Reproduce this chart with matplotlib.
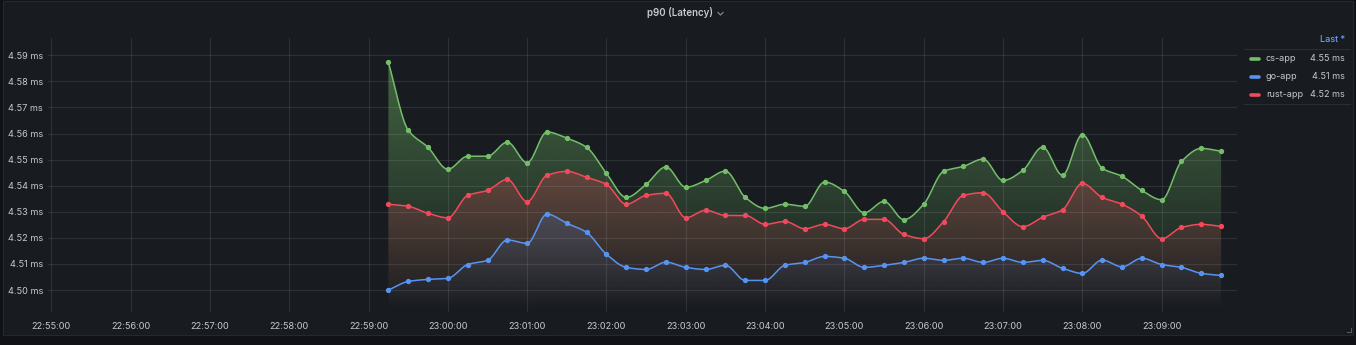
import numpy as np
import pandas as pd
import matplotlib
matplotlib.use('Agg')
import matplotlib.pyplot as plt
import matplotlib.dates as mdates
from matplotlib.lines import Line2D
from matplotlib.patches import Rectangle
from matplotlib.ticker import FuncFormatter

plt.rcParams['font.family'] = ['Inter', 'DejaVu Sans']

# samples every 15 s
times = pd.date_range('2024-05-01 22:59:15', periods=43, freq='15s')

cs_app = [4.5873, 4.5613, 4.5547, 4.5463, 4.5513, 4.5513, 4.5567, 4.5488, 4.5606, 4.5582,
          4.5547, 4.5447, 4.5355, 4.5405, 4.5472, 4.5394, 4.5420, 4.5456, 4.5355, 4.5313,
          4.5329, 4.5321, 4.5414, 4.5378, 4.5296, 4.5340, 4.5270, 4.5329, 4.5455, 4.5474,
          4.5502, 4.5420, 4.5459, 4.5548, 4.5440, 4.5596, 4.5467, 4.5436, 4.5382, 4.5346,
          4.5493, 4.5543, 4.5532]
go_app = [4.5000, 4.5033, 4.5041, 4.5045, 4.5098, 4.5114, 4.5192, 4.5179, 4.5291, 4.5256,
          4.5221, 4.5137, 4.5087, 4.5079, 4.5107, 4.5087, 4.5079, 4.5095, 4.5037, 4.5037,
          4.5095, 4.5106, 4.5129, 4.5122, 4.5087, 4.5095, 4.5106, 4.5122, 4.5114, 4.5122,
          4.5106, 4.5122, 4.5106, 4.5114, 4.5083, 4.5064, 4.5115, 4.5089, 4.5122, 4.5098,
          4.5087, 4.5064, 4.5056]
rust_app = [4.5329, 4.5321, 4.5294, 4.5277, 4.5363, 4.5382, 4.5424, 4.5339, 4.5440, 4.5455,
            4.5432, 4.5405, 4.5329, 4.5363, 4.5371, 4.5277, 4.5306, 4.5286, 4.5286, 4.5252,
            4.5263, 4.5235, 4.5252, 4.5235, 4.5271, 4.5271, 4.5213, 4.5197, 4.5262, 4.5363,
            4.5373, 4.5300, 4.5243, 4.5279, 4.5308, 4.5409, 4.5355, 4.5329, 4.5283, 4.5197,
            4.5240, 4.5252, 4.5244]

names = ['cs-app', 'go-app', 'rust-app']
colors = ['#73bf69', '#5794f2', '#f2495c']
all_series = [cs_app, go_app, rust_app]

W, H = 1356, 345
BG = '#181b1f'
TXT = '#c7c9d1'


def smooth(x, y, n=16):
    # monotone cubic (Fritsch-Carlson), like grafana's smooth line style
    x = np.asarray(x, float)
    y = np.asarray(y, float)
    h = np.diff(x)
    d = np.diff(y) / h
    m = np.zeros_like(y)
    m[0], m[-1] = d[0], d[-1]
    for i in range(1, len(y) - 1):
        if d[i - 1] * d[i] <= 0:
            m[i] = 0
        else:
            w1 = 2 * h[i] + h[i - 1]
            w2 = h[i] + 2 * h[i - 1]
            m[i] = (w1 + w2) / (w1 / d[i - 1] + w2 / d[i])
    xs, ys = [], []
    t = np.linspace(0, 1, n, endpoint=False)
    for i in range(len(h)):
        h00 = 2 * t**3 - 3 * t**2 + 1
        h10 = t**3 - 2 * t**2 + t
        h01 = -2 * t**3 + 3 * t**2
        h11 = t**3 - t**2
        xs.append(x[i] + t * h[i])
        ys.append(h00 * y[i] + h10 * h[i] * m[i] + h01 * y[i + 1] + h11 * h[i] * m[i + 1])
    xs.append([x[-1]])
    ys.append([y[-1]])
    return np.concatenate(xs), np.concatenate(ys)


fig = plt.figure(figsize=(W / 100, H / 100), dpi=100)
fig.patch.set_facecolor('#111217')
panel = Rectangle((3 / W, 1 - 335 / H), 1350 / W, 334 / H, transform=fig.transFigure,
                  facecolor=BG, edgecolor='#25282d', linewidth=0.8, zorder=-5)
fig.add_artist(panel)
# resize handle in the panel corner
fig.add_artist(Line2D([1347 / W, 1351 / W, 1351 / W], [1 - 332 / H, 1 - 332 / H, 1 - 328 / H],
                      transform=fig.transFigure, color='#5a5d66', linewidth=0.7))

ax = fig.add_axes([48 / W, 1 - 312 / H, (1237 - 48) / W, (312 - 38) / H])
ax.set_facecolor(BG)
for s in ax.spines.values():
    s.set_visible(False)

xlim = (mdates.date2num(pd.Timestamp('2024-05-01 22:54:57.5')),
        mdates.date2num(pd.Timestamp('2024-05-01 23:09:57')))
ylim = (4.4916, 4.5966)

xnum = mdates.date2num(times)

# gradient fill under each series, then the lines
grad = np.linspace(0.5, 0, 256)
for vals, col in zip([cs_app, rust_app, go_app], [colors[0], colors[2], colors[1]]):
    sx, sy = smooth(xnum, vals)
    poly = ax.fill_between(sx, sy, ylim[0], facecolor='none', edgecolor='none')
    rgba = np.zeros((256, 1, 4))
    rgba[..., :3] = matplotlib.colors.to_rgb(col)
    rgba[:, 0, 3] = grad
    im = ax.imshow(rgba, extent=[xlim[0], xlim[1], ylim[0], ylim[1]], aspect='auto',
                   origin='upper', zorder=1, interpolation='bilinear')
    im.set_clip_path(poly.get_paths()[0], transform=ax.transData)

for vals, col in zip(all_series, colors):
    sx, sy = smooth(xnum, vals)
    ax.plot(sx, sy, color=col, linewidth=1.1, zorder=3)
    ax.plot(xnum, vals, linestyle='none', marker='o', markersize=2.8, color=col, zorder=4)

ax.set_xlim(xlim)
ax.set_ylim(ylim)

ax.xaxis.set_major_locator(mdates.MinuteLocator())
ax.xaxis.set_major_formatter(mdates.DateFormatter('%H:%M:%S'))
ax.set_yticks([4.50, 4.51, 4.52, 4.53, 4.54, 4.55, 4.56, 4.57, 4.58, 4.59])
ax.yaxis.set_major_formatter(FuncFormatter(lambda v, p: f'{v:.2f} ms'))
ax.tick_params(length=0, labelsize=6.6, colors=TXT)
ax.tick_params(axis='x', pad=7.5)
ax.tick_params(axis='y', pad=3.5)
ax.set_axisbelow(False)
ax.grid(True, color='#ccccdc', alpha=0.12, linewidth=0.8)
for gl in ax.get_xgridlines() + ax.get_ygridlines():
    gl.set_zorder(2)

# title
fig.text(680 / W, 1 - 13 / H, 'p90 (Latency)', ha='center', va='center', fontsize=7.0,
         color=TXT, fontweight='semibold')
fig.add_artist(Line2D([718 / W, 720.5 / W, 723 / W], [1 - 12.5 / H, 1 - 15 / H, 1 - 12.5 / H],
                      transform=fig.transFigure, color='#8e9099', linewidth=0.8))

# legend table on the right
fig.text(1345 / W, 1 - 40 / H, 'Last *', ha='right', va='center', fontsize=6.5,
         color='#6e9fff', fontweight='medium')
for yy in [48.5, 103.5]:
    fig.add_artist(Line2D([1244 / W, 1350 / W], [1 - yy / H] * 2, transform=fig.transFigure,
                          color='#2a2d33', linewidth=0.8))
for i, (name, vals, col) in enumerate(zip(names, all_series, colors)):
    yy = 1 - (58.5 + i * 18) / H
    fig.add_artist(Line2D([1251 / W, 1259 / W], [yy, yy], transform=fig.transFigure,
                          color=col, linewidth=2.6, solid_capstyle='round'))
    fig.text(1266 / W, yy, name, ha='left', va='center', fontsize=6.5, color=TXT)
    fig.text(1344.5 / W, yy, f'{vals[-1]:.2f} ms', ha='right', va='center', fontsize=6.5, color=TXT)

fig.savefig('out.png', dpi=100, facecolor=fig.get_facecolor())
